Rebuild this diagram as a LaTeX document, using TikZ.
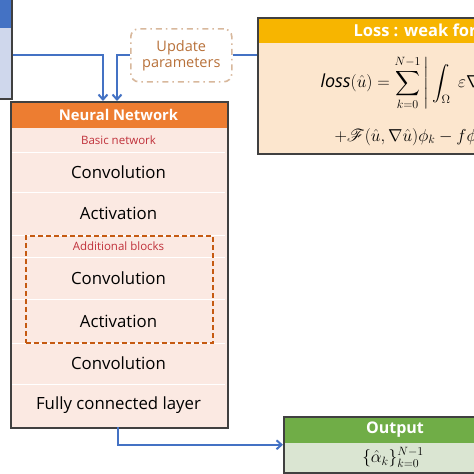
\documentclass[tikz,border=0pt]{standalone}
\usepackage{amsmath}
\usepackage{mathrsfs}
\usepackage{fontspec}
\setmainfont{Open Sans}
\usetikzlibrary{arrows.meta}
\definecolor{hblue}{HTML}{4472C4}
\definecolor{lblue}{HTML}{CFD7EC}
\definecolor{conncol}{HTML}{4472C4}
\definecolor{horange}{HTML}{ED7D31}
\definecolor{lpink}{HTML}{FBE9E2}
\definecolor{redtxt}{HTML}{C0303A}
\definecolor{dorange}{HTML}{C55A11}
\definecolor{tanline}{HTML}{D8B89C}
\definecolor{tantxt}{HTML}{B8713A}
\definecolor{hyellow}{HTML}{F7B500}
\definecolor{lpeach}{HTML}{FCE6CE}
\definecolor{hgreen}{HTML}{70AD47}
\definecolor{lgreen}{HTML}{DAE5D2}
\definecolor{bordcol}{HTML}{404040}
\tikzset{
  boxfill/.style={draw=none, inner sep=0pt, anchor=north west},
  frame/.style={draw=bordcol, line width=1.5pt, fill=none, inner sep=0pt, anchor=north west},
  conn/.style={draw=conncol, line width=2pt},
  arr/.style={conn, -{Straight Barb[length=5pt,width=9pt]}},
  sep/.style={draw=white, line width=1pt},
  rowtxt/.style={font=\fontsize{16.8}{19}\selectfont, text=black},
  smalltxt/.style={font=\fontsize{11.5}{13}\selectfont, text=redtxt},
  headtxt/.style={font=\fontsize{15.5}{18}\bfseries\selectfont, text=white},
}
\begin{document}
\begin{tikzpicture}[x=1pt,y=-1pt]
\useasboundingbox (0,0) rectangle (474,474);
\clip (0,0) rectangle (474,474);
\fill[white] (0,0) rectangle (474,474);
% left (cut) box
\node[boxfill, fill=hblue, minimum width=40pt, minimum height=36pt] (lhead) at (-29,-8) {};
\node[boxfill, fill=lblue, minimum width=40pt, minimum height=70pt] (lbody) at (-29,28) {};
\node[frame, minimum width=40pt, minimum height=106pt] (lframe) at (-29,-8) {};
% update parameters
\node[draw=tanline, line width=1.6pt, dash pattern=on 6pt off 4pt on 1.5pt off 4pt, rounded corners=8pt,
      minimum width=101pt, minimum height=53pt, anchor=north west, inner sep=0pt] (upd) at (130,28) {};
\node[font=\fontsize{14.5}{17}\selectfont, text=tantxt, align=center] (updtxt) at (upd.center) {Update\\[-1pt]parameters};
% loss box
\node[boxfill, fill=hyellow, minimum width=260pt, minimum height=26pt] (losshead) at (257,17) {};
\node[boxfill, fill=lpeach, minimum width=260pt, minimum height=110pt] (lossbody) at (257,43) {};
\node[frame, minimum width=260pt, minimum height=136pt] (loss) at (257,17) {};
\node[headtxt, font=\fontsize{16.5}{18}\bfseries\selectfont, anchor=west] (losstitle) at (350,30) {Loss : weak form};
\node[anchor=west, font=\fontsize{18}{20}\selectfont] (eq1) at (317,83)
  {$\displaystyle \mathit{loss}(\hat{u}) = \sum_{k=0}^{N-1}\left|\vphantom{\sum_{k=0}^{N-1}}\int_{\Omega}\ \varepsilon\nabla\hat{u}\cdot\nabla\phi_k\right.$};
\node[anchor=west, font=\fontsize{18}{20}\selectfont] (eq2) at (331,137)
  {$+\mathscr{F}(\hat{u},\nabla\hat{u})\phi_k - f\phi_k\,dx$};
% neural network box
\node[boxfill, fill=lpink, minimum width=217pt, minimum height=326pt] (nnbody) at (10,101) {};
\node[boxfill, fill=horange, minimum width=217pt, minimum height=27pt] (nnhead) at (10,101) {};
\node[frame, minimum width=217pt, minimum height=326pt] (nn) at (10,101) {};
\node[headtxt, font=\fontsize{14.8}{18}\bfseries\selectfont] (nntitle) at (118.5,114.5) {Neural Network};
\foreach \yy in {152,192,235,257,299,343,384}{
  \draw[sep] (12,\yy) -- (225,\yy);
}
\node[smalltxt] (basic) at (118.5,140) {Basic network};
\node[rowtxt] (conv1) at (118.5,172) {Convolution};
\node[rowtxt] (act1) at (118.5,213.5) {Activation};
\node[draw=dorange, line width=1.6pt, dash pattern=on 5pt off 3pt, minimum width=187pt, minimum height=107pt, anchor=north west, inner sep=0pt] (addbox) at (25,235) {};
\node[smalltxt] (addl) at (118.5,246) {Additional blocks};
\node[rowtxt] (conv2) at (118.5,278) {Convolution};
\node[rowtxt] (act2) at (118.5,321) {Activation};
\node[rowtxt] (conv3) at (118.5,363.5) {Convolution};
\node[rowtxt] (fc) at (118.5,405.5) {Fully connected layer};
% output box
\node[boxfill, fill=lgreen, minimum width=224pt, minimum height=56pt] (outbody) at (283,416) {};
\node[boxfill, fill=hgreen, minimum width=224pt, minimum height=27pt] (outhead) at (283,416) {};
\node[frame, minimum width=224pt, minimum height=56pt] (out) at (283,416) {};
\node[headtxt, font=\fontsize{16}{18}\bfseries\selectfont] (outtitle) at (395,429.5) {Output};
\node[font=\fontsize{17}{19}\selectfont] (outeq) at (393,457.5) {$\{\hat{\alpha}_k\}_{k=0}^{N-1}$};
% connectors
\coordinate (a1) at (103,101);
\coordinate (a2) at (117,101);
\coordinate (b1) at (118,427);
\draw[arr] (lframe.east |- upd.west) -| (a1);
\draw[arr] (upd.west) -| (a2);
\draw[conn] (upd.east) -- (loss.west |- upd.east);
\draw[arr] (b1) |- (out.west);
\end{tikzpicture}
\end{document}
